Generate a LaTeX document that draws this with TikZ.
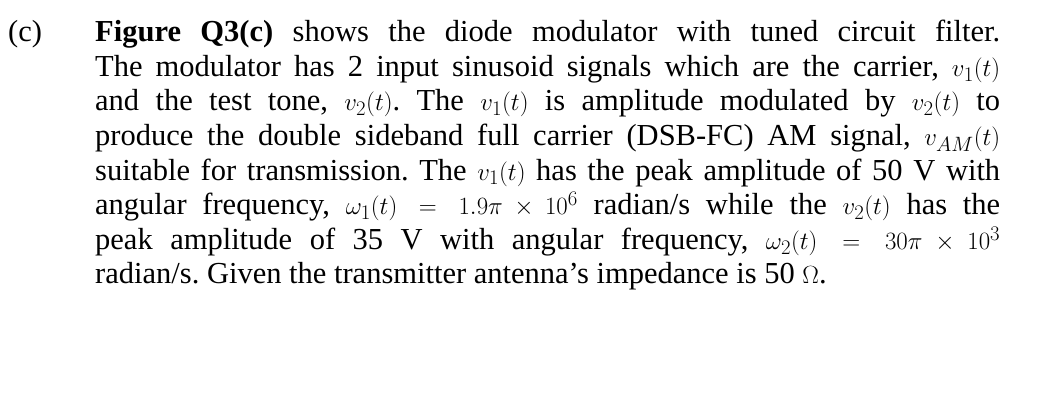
\documentclass[tikz,border=0pt]{standalone}
\usepackage{fontspec}
\setmainfont{Liberation Serif}
\begin{document}
\frenchspacing
\begin{tikzpicture}[x=1pt,y=1pt]
\useasboundingbox[fill=white] (0,0) rectangle (1059,-419);
\tikzset{para/.style={anchor=north west,inner sep=0pt,font=\fontsize{30.5}{34.6}\selectfont}}
\node[para] (lbl) at (8,-20) {(c)};
\node[para,text width=905pt,align=justify] (txt) at (95,-20) {\frenchspacing\textbf{Figure Q3(c)} shows the diode modulator with tuned circuit filter.\linebreak
The modulator has 2 input sinusoid signals which are the carrier, $v_1(t)$\linebreak
and the test tone, $v_2(t)$. The $v_1(t)$ is amplitude modulated by $v_2(t)$ to\linebreak
produce the double sideband full carrier (DSB-FC) AM signal, $v_{AM}(t)$\linebreak
suitable for transmission. The $v_1(t)$ has the peak amplitude of 50 V with\linebreak
angular frequency, $\omega_1(t)=1.9\pi\times10^6$ radian/s while the $v_2(t)$ has the\linebreak
peak amplitude of 35 V with angular frequency, $\omega_2(t)=30\pi\times10^3$\linebreak
radian/s. Given the transmitter antenna's impedance is 50~$\Omega$.};
\end{tikzpicture}
\end{document}
